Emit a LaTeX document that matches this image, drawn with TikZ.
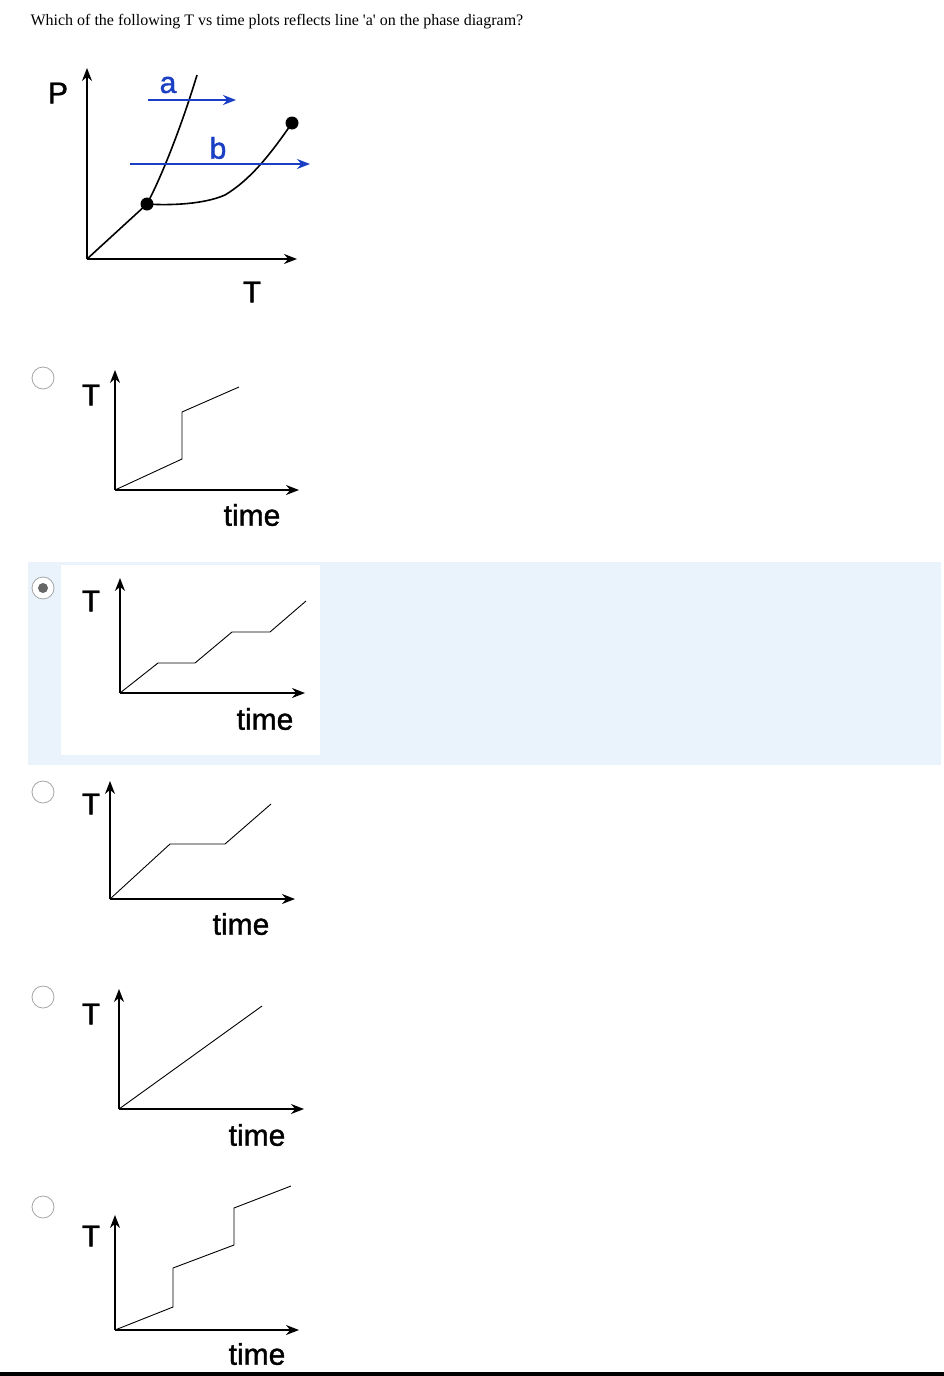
\documentclass[tikz,border=0pt]{standalone}
\usepackage{fontspec}
\setmainfont{Liberation Serif}
\newfontfamily\lab[FakeBold=1.2]{Liberation Sans}
\usetikzlibrary{arrows.meta}
\definecolor{hl}{HTML}{EAF2FC}
\definecolor{bl}{HTML}{1A3FC4}
\begin{document}
\begin{tikzpicture}[x=1pt,y=-1pt,
  ax/.style={line width=1.6pt,-{Stealth[length=13pt,width=10pt]}},
  pl/.style={line width=0.9pt},
  lb/.style={font=\lab\fontsize{30}{31}\selectfont},
  radio/.style={circle,draw=gray!70,line width=0.8pt,minimum size=22pt,inner sep=0pt}]
\useasboundingbox (0,0) rectangle (944,1376);
\fill[white] (0,0) rectangle (944,1376);
\node[anchor=west,font=\fontsize{16}{17}\selectfont] (q) at (27,22) {Which of the following T vs time plots reflects line \textquotesingle a\textquotesingle{} on the phase diagram?};
% phase diagram
\coordinate (o) at (87,259);
\coordinate (tp) at (147,204);
\coordinate (cp) at (292,123);
\draw[ax] (o) -- (87,68);
\draw[ax] (o) -- (297,259);
\draw[line width=1.6pt] (o) -- (tp);
\draw[line width=1.6pt] (tp) .. controls (165,170) and (185,115) .. (197,75);
\draw[line width=1.6pt] (tp) .. controls (160,205) and (200,206) .. (225,195) .. controls (250,180) and (270,155) .. (cp);
\fill (tp) circle (6.5pt);
\fill (cp) circle (6.5pt);
\draw[bl,line width=1.8pt,-{Stealth[length=13pt,width=10pt]}] (148,100) -- (236,100);
\draw[bl,line width=1.8pt,-{Stealth[length=13pt,width=10pt]}] (130,164) -- (310,164);
\node[lb,bl] (la) at (168,85) {a};
\node[lb,bl] (lbb) at (218,148) {b};
\node[lb] (lP) at (58,93) {P};
\node[lb] (lT) at (252,292) {T};
% option 2 highlight
\fill[hl] (28,562) rectangle (941,765);
\fill[white] (61,565) rectangle (320,755);
% radios
\node[radio,fill=white] (r1) at (43,378) {};
\node[radio,fill=white] (r2) at (43,588) {};
\fill[gray!80!black] (r2) circle (5pt);
\node[radio,fill=white] (r3) at (43,792) {};
\node[radio,fill=white] (r4) at (43,997) {};
\node[radio,fill=white] (r5) at (43,1207) {};
% option 1
\draw[ax] (115,490) -- (115,370);
\draw[ax] (115,490) -- (299,490);
\draw[pl] (115,490) -- (182,459) -- (182,412) -- (239,387);
\node[lb] (t1) at (91,395) {T};
\node[lb] (x1) at (252,515) {time};
% option 2
\draw[ax] (120,693) -- (120,578);
\draw[ax] (120,693) -- (305,693);
\draw[pl] (120,693) -- (158,663) -- (195,663) -- (232,632) -- (270,632) -- (306,601);
\node[lb] (t2) at (91,601) {T};
\node[lb] (x2) at (265,719) {time};
% option 3
\draw[ax] (110,899) -- (110,781);
\draw[ax] (110,899) -- (295,899);
\draw[pl] (110,899) -- (170,844) -- (225,844) -- (271,804);
\node[lb] (t3) at (91,804) {T};
\node[lb] (x3) at (241,924) {time};
% option 4
\draw[ax] (119,1109) -- (119,989);
\draw[ax] (119,1109) -- (304,1109);
\draw[pl] (119,1109) -- (262,1006);
\node[lb] (t4) at (91,1014) {T};
\node[lb] (x4) at (257,1135) {time};
% option 5
\draw[ax] (115,1330) -- (115,1215);
\draw[ax] (115,1330) -- (299,1330);
\draw[pl] (115,1330) -- (173,1307) -- (173,1268) -- (234,1245) -- (234,1208) -- (291,1186);
\node[lb] (t5) at (91,1236) {T};
\node[lb] (x5) at (257,1354) {time};
% bottom bar
\fill[black] (0,1372) rectangle (944,1376);
\end{tikzpicture}
\end{document}
